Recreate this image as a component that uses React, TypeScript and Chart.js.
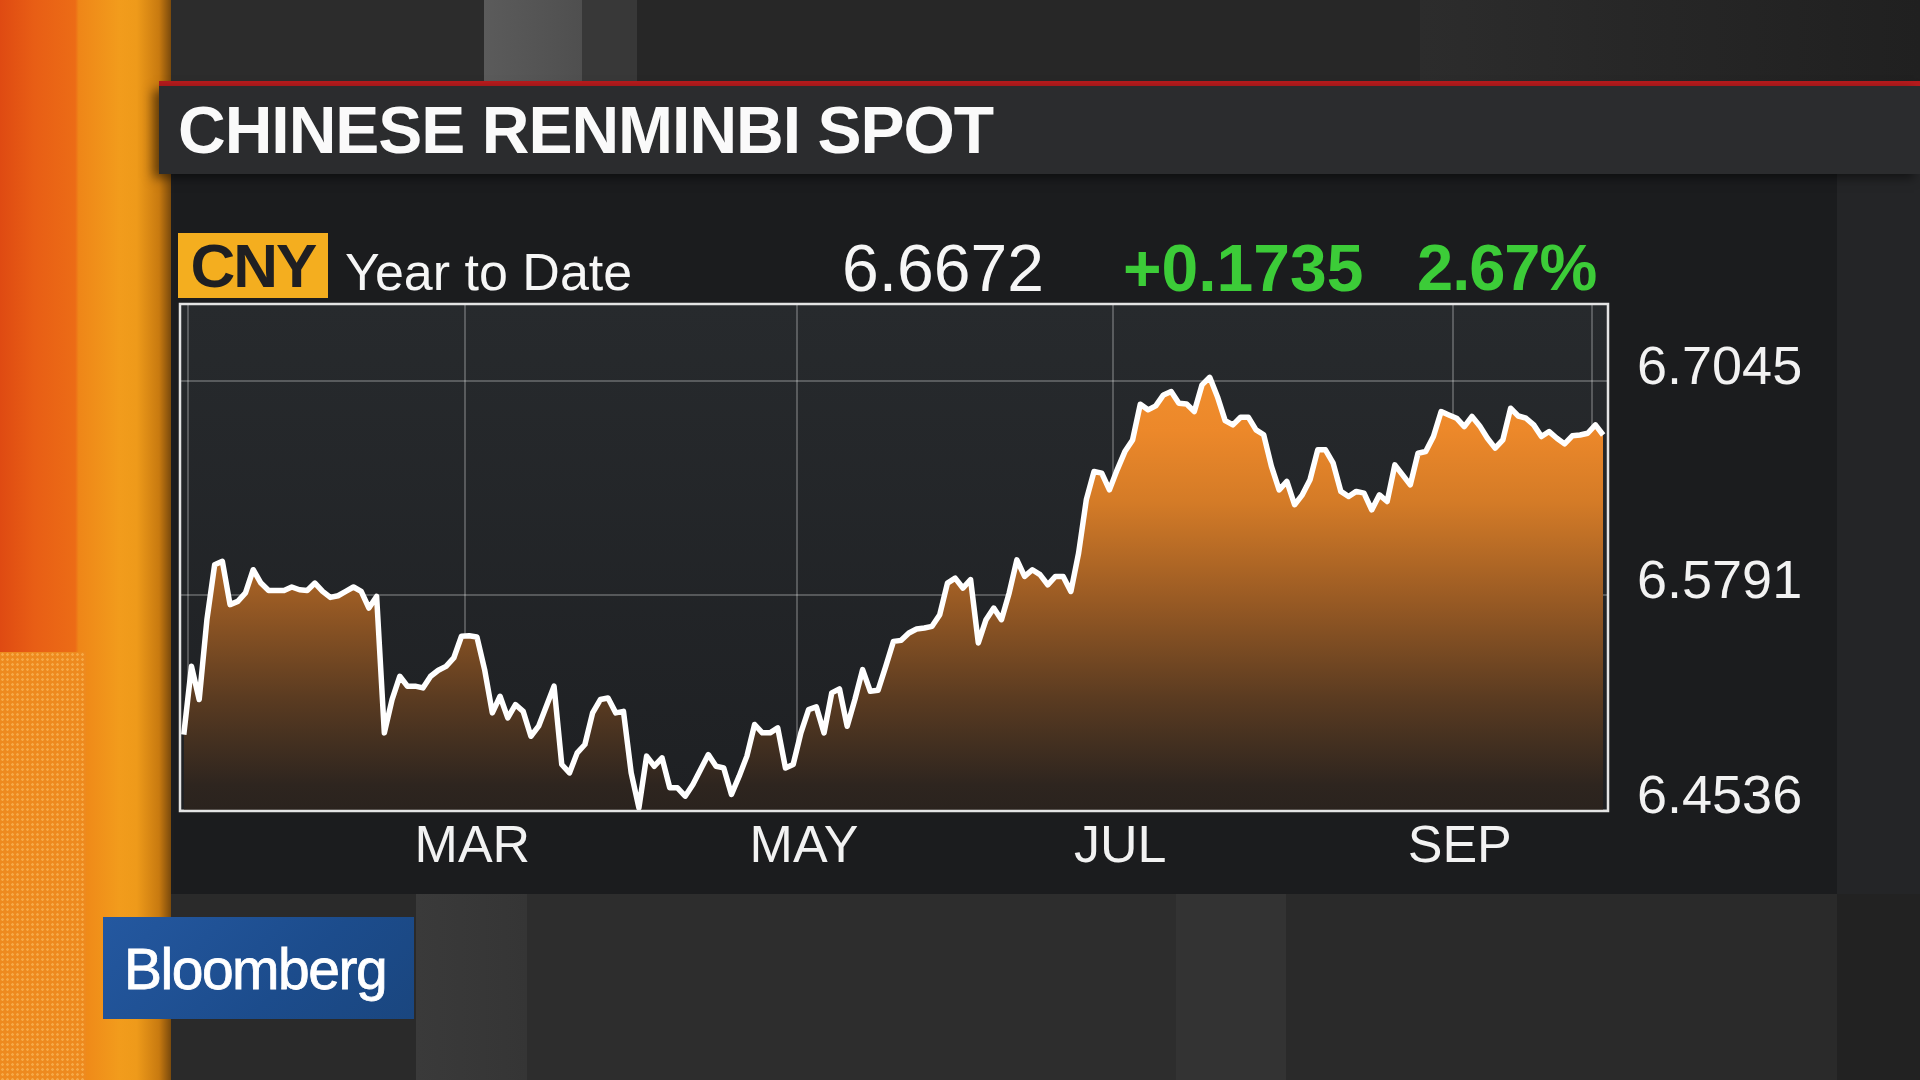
import React, { useEffect, useRef } from 'react';
import { Chart, registerables } from 'chart.js';

Chart.register(...registerables);

// USD/CNY spot, trading days from 31 Dec 2015 to 30 Sep 2016
const cnySpot: number[] = [
  6.4977, 6.5376, 6.5182, 6.5649, 6.5970, 6.5990, 6.5737, 6.5756, 6.5805, 6.5941,
  6.5863, 6.5820, 6.5820, 6.5820, 6.5840, 6.5824, 6.5820, 6.5863, 6.5814, 6.5779,
  6.5789, 6.5814, 6.5840, 6.5814, 6.5717, 6.5785, 6.4987, 6.5182, 6.5318, 6.5260,
  6.5260, 6.5250, 6.5318, 6.5353, 6.5376, 6.5425, 6.5552, 6.5555, 6.5548, 6.5357,
  6.5104, 6.5201, 6.5075, 6.5152, 6.5113, 6.4967, 6.5026, 6.5143, 6.5260, 6.4802,
  6.4753, 6.4870, 6.4919, 6.5104, 6.5182, 6.5191, 6.5104, 6.5113, 6.4753, 6.4549,
  6.4851, 6.4792, 6.4841, 6.4666, 6.4666, 6.4617, 6.4685, 6.4773, 6.4860, 6.4792,
  6.4782, 6.4627, 6.4734, 6.4851, 6.5036, 6.4987, 6.4987, 6.5016, 6.4782, 6.4802,
  6.4987, 6.5123, 6.5139, 6.4987, 6.5221, 6.5244, 6.5026, 6.5182, 6.5357, 6.5230,
  6.5236, 6.5376, 6.5522, 6.5528, 6.5571, 6.5594, 6.5600, 6.5610, 6.5678, 6.5863,
  6.5892, 6.5834, 6.5883, 6.5513, 6.5649, 6.5717, 6.5649, 6.5805, 6.5999, 6.5902,
  6.5941, 6.5912, 6.5853, 6.5902, 6.5902, 6.5814, 6.6038, 6.6350, 6.6515, 6.6506,
  6.6408, 6.6525, 6.6632, 6.6700, 6.6909, 6.6876, 6.6899, 6.6963, 6.6983, 6.6914,
  6.6910, 6.6866, 6.7022, 6.7066, 6.6953, 6.6813, 6.6788, 6.6833, 6.6833, 6.6759,
  6.6730, 6.6545, 6.6408, 6.6457, 6.6321, 6.6379, 6.6467, 6.6642, 6.6642, 6.6564,
  6.6399, 6.6369, 6.6399, 6.6389, 6.6291, 6.6379, 6.6340, 6.6554, 6.6496, 6.6437,
  6.6622, 6.6632, 6.6720, 6.6866, 6.6846, 6.6827, 6.6778, 6.6837, 6.6782, 6.6710,
  6.6652, 6.6700, 6.6885, 6.6840, 6.6827, 6.6788, 6.6720, 6.6749, 6.6710, 6.6677,
  6.6724, 6.6729, 6.6739, 6.6788, 6.6729,
];

// Month boundaries, in trading-day index units
const monthTickIndex: number[] = [0.5, 36.5, 79.5, 120.5, 164.5, 182.5];
const monthTickLabels: string[] = ['', 'MAR', 'MAY', 'JUL', 'SEP', ''];

const priceTickValues: number[] = [6.4536, 6.5791, 6.7045];
const priceTickLabels: string[] = ['6.4536', '6.5791', '6.7045'];
const priceAxisMin = 6.4536;
const priceAxisMax = 6.7489;
const dayAxisMin = -0.36;
const dayAxisMax = 184.5;

const titleText = 'CHINESE RENMINBI SPOT';
const tickerText = 'CNY';
const periodText = 'Year to Date';
const lastPriceText = '6.6672';
const changeText = '+0.1735';
const changePctText = '2.67%';

const FONT = '"Liberation Sans", Arial, Helvetica, sans-serif';

const plotBackground = {
  id: 'plotBackground',
  beforeDraw(chart: any) {
    const { ctx, chartArea: ca } = chart;
    if (!ca) return;
    ctx.save();
    const g = ctx.createLinearGradient(0, ca.top, 0, ca.bottom);
    g.addColorStop(0, '#272a2d');
    g.addColorStop(1, '#1e2023');
    ctx.fillStyle = g;
    ctx.fillRect(ca.left, ca.top, ca.right - ca.left, ca.bottom - ca.top);
    ctx.restore();
  },
};

const plotBorder = {
  id: 'plotBorder',
  afterDraw(chart: any) {
    const { ctx, chartArea: ca } = chart;
    if (!ca) return;
    ctx.save();
    ctx.strokeStyle = '#e4e4e4';
    ctx.lineWidth = 2.5;
    ctx.strokeRect(ca.left - 1, ca.top - 1, ca.right - ca.left + 2, ca.bottom - ca.top + 2);
    ctx.restore();
  },
};

function SpotChart() {
  const ref = useRef<HTMLCanvasElement | null>(null);
  useEffect(() => {
    const canvas = ref.current;
    if (!canvas) return;
    const chart = new Chart(canvas, {
      type: 'line',
      data: {
        datasets: [
          {
            data: cnySpot.map((v, i) => ({ x: i, y: v })),
            borderColor: '#ffffff',
            borderWidth: 5.5,
            borderJoinStyle: 'round',
            pointRadius: 0,
            tension: 0,
            fill: 'start',
            backgroundColor: (c: any) => {
              const ch = c.chart;
              const ca = ch.chartArea;
              if (!ca) return 'rgba(0,0,0,0)';
              const g = ch.ctx.createLinearGradient(0, ca.top, 0, ca.bottom);
              g.addColorStop(0, '#f79632');
              g.addColorStop(0.25, '#ec882a');
              g.addColorStop(0.39, '#d47b27');
              g.addColorStop(0.58, '#9a5b24');
              g.addColorStop(0.78, '#5a3b21');
              g.addColorStop(0.95, '#2e251f');
              g.addColorStop(1, '#2a231e');
              return g;
            },
          },
        ],
      },
      options: {
        animation: false,
        responsive: false,
        devicePixelRatio: 1,
        layout: { padding: { left: 11, top: 15, right: 0, bottom: 0 } },
        plugins: { legend: { display: false }, tooltip: { enabled: false } },
        scales: {
          x: {
            type: 'linear',
            min: dayAxisMin,
            max: dayAxisMax,
            z: 1,
            afterBuildTicks: (s: any) => {
              s.ticks = monthTickIndex.map((v) => ({ value: v }));
            },
            afterFit: (s: any) => {
              s.height = 80;
              s.paddingLeft = 0;
              s.paddingRight = 0;
            },
            grid: { color: 'rgba(255,255,255,0.24)', lineWidth: 2, drawTicks: false },
            border: { display: false },
            ticks: {
              autoSkip: false,
              maxRotation: 0,
              padding: 6,
              labelOffset: 7,
              color: '#f2f2f2',
              font: { family: FONT, size: 52 },
              callback: (_v: any, i: number) => monthTickLabels[i],
            },
          },
          y: {
            position: 'right',
            min: priceAxisMin,
            max: priceAxisMax,
            z: 1,
            afterBuildTicks: (s: any) => {
              s.ticks = priceTickValues.map((v) => ({ value: v }));
            },
            afterFit: (s: any) => {
              s.width = 263;
              s.paddingTop = 0;
              s.paddingBottom = 0;
            },
            grid: { color: 'rgba(255,255,255,0.24)', lineWidth: 2, drawTicks: false },
            border: { display: false },
            ticks: {
              autoSkip: false,
              padding: 30,
              labelOffset: -12,
              color: '#f2f2f2',
              font: { family: FONT, size: 54 },
              callback: (_v: any, i: number) => priceTickLabels[i],
            },
          },
        },
      } as any,
      plugins: [plotBackground, plotBorder],
    });
    return () => chart.destroy();
  }, []);
  return (
    <canvas
      ref={ref}
      width={1700}
      height={600}
      style={{ position: 'absolute', left: 170, top: 290, width: 1700, height: 600 }}
    />
  );
}

const abs = (o: React.CSSProperties): React.CSSProperties => ({ position: 'absolute', ...o });

export default function App() {
  return (
    <div
      style={abs({
        left: 0,
        top: 0,
        width: 1920,
        height: 1080,
        overflow: 'hidden',
        background: '#1c1d1f',
        fontFamily: FONT,
      })}
    >
      {/* top band */}
      <div
        style={abs({
          left: 0,
          top: 0,
          width: 1920,
          height: 86,
          background:
            'linear-gradient(90deg, #2c2c2c 0px, #2c2c2c 484px, #5b5b5b 484px, #4f4f4f 582px, #383838 582px, #383838 637px, #272727 637px, #272727 1420px, #2c2c2c 1420px, #202020 1920px)',
        })}
      />
      {/* bottom band */}
      <div
        style={abs({
          left: 0,
          top: 894,
          width: 1920,
          height: 186,
          background:
            'linear-gradient(90deg, #2a2a2a 0px, #2a2a2a 416px, #3a3a3a 416px, #353535 527px, #2d2d2d 527px, #2d2d2d 1176px, #333333 1176px, #333333 1286px, #2a2a2a 1286px, #2a2a2a 1837px, #222222 1837px)',
        })}
      />
      {/* right strip beside panel */}
      <div style={abs({ left: 1837, top: 174, width: 83, height: 720, background: '#242527' })} />
      {/* main panel */}
      <div style={abs({ left: 174, top: 174, width: 1663, height: 720, background: '#1b1c1e' })} />

      {/* orange side strip */}
      <div
        style={abs({
          left: 0,
          top: 0,
          width: 171,
          height: 1080,
          background:
            'linear-gradient(90deg, #df4a12 0%, #e85e15 20%, #ec6c16 44%, #ef8618 46%, #f29c1c 70%, #ee9a1a 80%, #c87a10 93%, #7a4a0c 100%)',
        })}
      />
      <div
        style={abs({
          left: 0,
          top: 652,
          width: 86,
          height: 428,
          backgroundColor: '#ee8a1e',
          backgroundImage: 'radial-gradient(circle, rgba(255,205,120,0.45) 1px, transparent 1.6px)',
          backgroundSize: '5px 5px',
        })}
      />

      {/* red rule */}
      <div style={abs({ left: 159, top: 81, width: 1761, height: 5, background: '#b71b1d' })} />
      {/* title bar */}
      <div
        style={abs({
          left: 159,
          top: 86,
          width: 1761,
          height: 88,
          background: '#2b2c2e',
          boxShadow: '-6px 4px 10px rgba(0,0,0,0.5)',
        })}
      />
      <div
        style={abs({
          left: 178,
          top: 97,
          fontSize: 66,
          lineHeight: 1,
          fontWeight: 700,
          letterSpacing: -1,
          color: '#fafafa',
          whiteSpace: 'nowrap',
        })}
      >
        {titleText}
      </div>

      {/* header row */}
      <div
        style={abs({
          left: 178,
          top: 233,
          width: 150,
          height: 65,
          background: '#f4ae1f',
          display: 'flex',
          alignItems: 'center',
          justifyContent: 'center',
        })}
      >
        <span style={{ fontSize: 62, lineHeight: 1, fontWeight: 700, color: '#1f1f22', letterSpacing: -2 }}>
          {tickerText}
        </span>
      </div>
      <div style={abs({ left: 345, top: 246, fontSize: 52, lineHeight: 1, color: '#f6f6f6', whiteSpace: 'nowrap' })}>
        {periodText}
      </div>
      <div
        style={abs({
          left: 842,
          top: 235,
          fontSize: 66,
          lineHeight: 1,
          color: '#f6f6f6',
          letterSpacing: 0,
          whiteSpace: 'nowrap',
        })}
      >
        {lastPriceText}
      </div>
      <div
        style={abs({
          left: 1123,
          top: 235,
          fontSize: 66,
          lineHeight: 1,
          fontWeight: 700,
          color: '#3ccc38',
          letterSpacing: 0,
          whiteSpace: 'nowrap',
        })}
      >
        {changeText}
      </div>
      <div
        style={abs({
          left: 1417,
          top: 235,
          fontSize: 65,
          lineHeight: 1,
          fontWeight: 700,
          color: '#3ccc38',
          letterSpacing: -1,
          whiteSpace: 'nowrap',
        })}
      >
        {changePctText}
      </div>

      <SpotChart />

      {/* Bloomberg logo */}
      <div
        style={abs({
          left: 103,
          top: 917,
          width: 311,
          height: 102,
          background: 'linear-gradient(135deg, #2458a0 0%, #1c4c8c 60%, #1a467f 100%)',
        })}
      />
      <div
        style={abs({
          left: 124,
          top: 941,
          fontSize: 57,
          lineHeight: 1,
          fontWeight: 400,
          letterSpacing: -1.5,
          color: '#ffffff',
          WebkitTextStroke: '0.8px #ffffff',
          whiteSpace: 'nowrap',
        })}
      >
        Bloomberg
      </div>
    </div>
  );
}
